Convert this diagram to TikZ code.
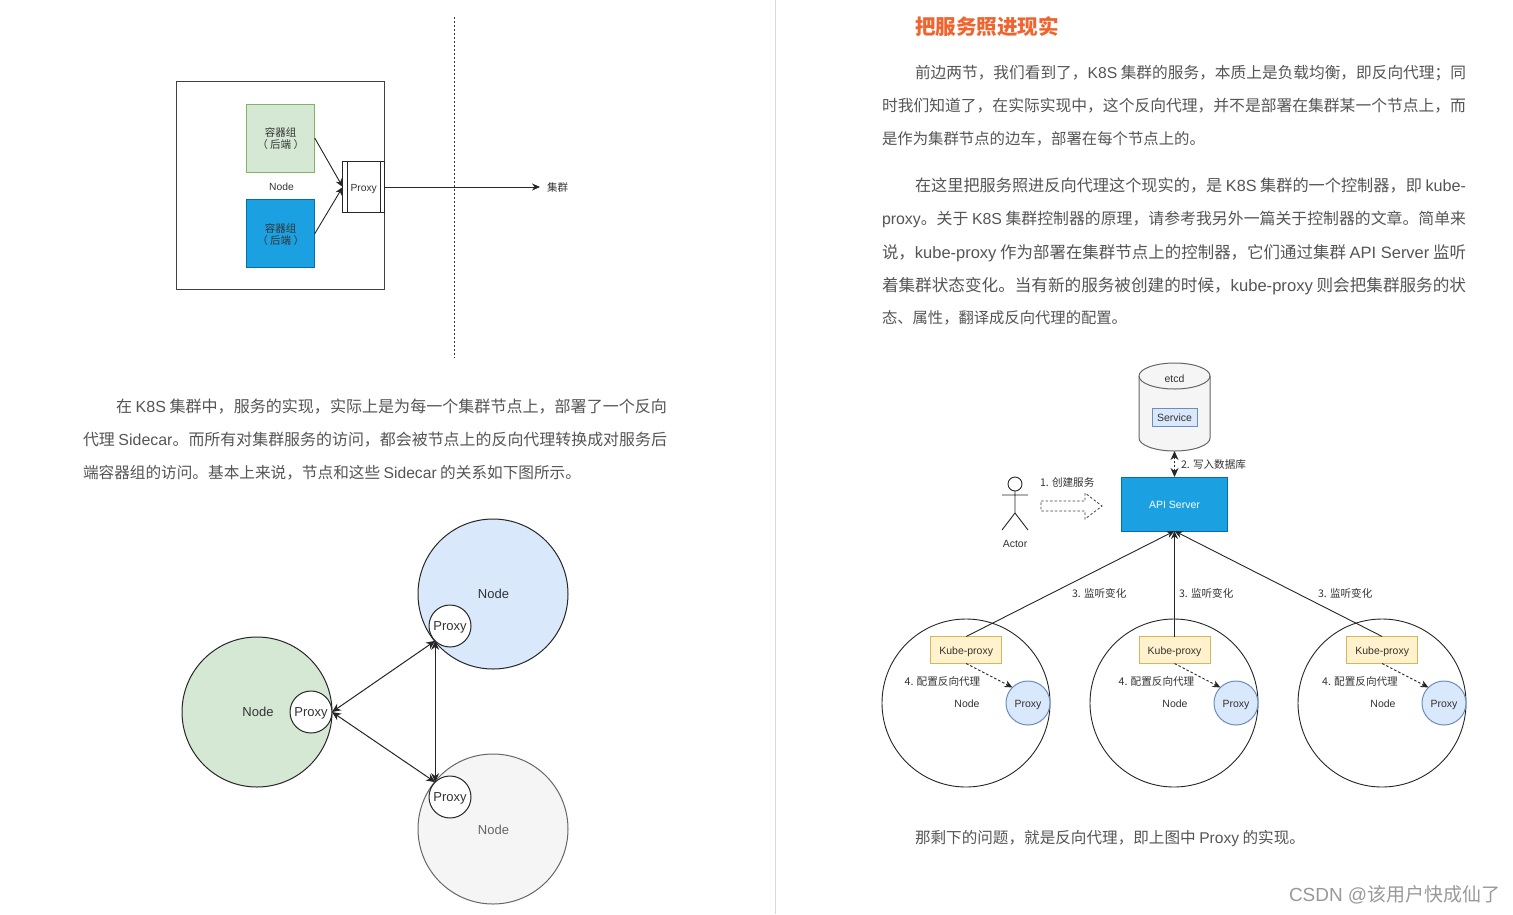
\documentclass[tikz,border=0pt]{standalone}
\usepackage{fontspec}
\usepackage{graphicx}
\setmainfont{Liberation Sans}
\newfontfamily\cjk{Noto Sans CJK SC}
\usetikzlibrary{arrows.meta}
\newcommand{\fsz}[1]{\fontsize{#1}{#1}\selectfont}
\newcommand{\lt}[1]{{\rmfamily\fontspec{Liberation Sans}#1}}
\definecolor{bodytext}{HTML}{555555}
\definecolor{ink}{HTML}{333333}
\definecolor{gfill}{HTML}{D5E8D4}
\definecolor{gline}{HTML}{82B366}
\definecolor{bfill}{HTML}{1BA1E2}
\definecolor{bline}{HTML}{006EAF}
\definecolor{lbfill}{HTML}{DAE8FC}
\definecolor{lbline}{HTML}{6C8EBF}
\definecolor{yfill}{HTML}{FFF2CC}
\definecolor{yline}{HTML}{D6B656}
\definecolor{grayfill}{HTML}{F5F5F5}
\definecolor{grayline}{HTML}{666666}
\tikzset{
  para/.style={anchor=west,inner sep=0pt,outer sep=0pt,text=bodytext,yshift=-2.5pt},
  lab/.style={inner sep=0pt,outer sep=0pt,text=ink},
  evenh/.style={text height=0.9em,text depth=0pt},
  conn/.style={draw=black!85,line width=0.9pt,-{Stealth[length=8pt,width=7pt]}},
  both/.style={draw=black!85,line width=1pt,{Stealth[length=9pt,width=8pt]}-{Stealth[length=9pt,width=8pt]}},
  sq/.style={draw,line width=1pt,minimum width=68pt,minimum height=68pt,inner sep=0pt,outer sep=0pt,align=center,text=ink,font=\cjk\fsz{10.5},text depth=0pt},
  bigc/.style={circle,draw=black!85,line width=1pt,minimum size=150pt,inner sep=0pt,outer sep=0pt},
  proxc/.style={circle,draw=black!85,fill=white,line width=1pt,minimum size=42pt,inner sep=0pt,outer sep=0pt,font=\fsz{13},text=ink,evenh},
  nodec/.style={circle,draw=black!85,fill=white,line width=0.9pt,minimum size=168pt,inner sep=0pt,outer sep=0pt},
  kube/.style={draw=yline,fill=yfill,line width=1pt,minimum width=71pt,minimum height=27pt,inner sep=0pt,outer sep=0pt,font=\fsz{10.5},text=ink,evenh},
  pxb/.style={circle,draw=lbline,fill=lbfill,line width=1pt,minimum size=44pt,inner sep=0pt,outer sep=0pt,font=\fsz{10.5},text=ink,evenh},
  small/.style={lab,font=\cjk\fsz{10.6}},
  nlab/.style={lab,font=\fsz{10.5}},
}
\newcommand{\pline}[5]{\node[para] (#1) at (#2,#3) {\resizebox{#4pt}{!}{\cjk\fsz{16}\strut #5}};}
\begin{document}
\begin{tikzpicture}[x=1pt,y=-1pt]
\useasboundingbox (0,0) rectangle (1513,914);
\fill[white] (0,0) rectangle (1513,914);
\draw[black!15,line width=1pt] (775,0) -- (775,914);

% ---------- diagram 1
\node[draw=black!75,line width=1pt,minimum size=208pt,inner sep=0pt,outer sep=0pt] (outer) at (280.6,185.8) {};
\node[sq,draw=gline,fill=gfill] (green) at (280.7,138) {容器组\\[1.5pt]（ 后端 ）};
\node[sq,draw=bline,fill=bfill] (blue) at (280.7,233.8) {容器组\\[1.5pt]（ 后端 ）};
\node[nlab,font=\fsz{10.3}] (n1) at (281.5,187) {Node};
\node[draw=black!85,fill=white,line width=0.9pt,minimum width=42pt,minimum height=51pt,inner sep=0pt,outer sep=0pt,font=\fsz{10.3},text=ink,evenh] (px) at (363.7,187) {Proxy};
\draw[black!85,line width=0.8pt] (347.2,161.5) -- (347.2,212.5) (380.2,161.5) -- (380.2,212.5);
\coordinate (dtop) at (454,17);
\coordinate (dbot) at (454,358);
\draw[black!80,line width=0.8pt,dash pattern=on 2pt off 2pt] (dtop) -- (dbot);
\node[lab,font=\cjk\fsz{10.5},anchor=west,inner xsep=7pt] (jq) at (540,187) {集群};
\draw[conn] (green.east) -- (px.west);
\draw[conn] (blue.east) -- (px.west);
\draw[conn] (px.east) -- (jq.west);

% ---------- left text
\pline{a1}{116}{406}{551}{在 \lt{K8S} 集群中，服务的实现，实际上是为每一个集群节点上，部署了一个反向}
\pline{a2}{83}{439}{584}{代理 \lt{Sidecar}。而所有对集群服务的访问，都会被节点上的反向代理转换成对服务后}
\pline{a3}{83}{472}{498}{端容器组的访问。基本上来说，节点和这些 \lt{Sidecar} 的关系如下图所示。}

% ---------- diagram 2
\node[bigc,fill=lbfill] (nb) at (493,594) {};
\node[bigc,fill=gfill] (ng) at (257,712) {};
\node[bigc,draw=grayline,fill=grayfill] (nw) at (493,829) {};
\node[lab,font=\fsz{13}] (tb) at (493.5,594) {Node};
\node[lab,font=\fsz{13}] (tg) at (258,712) {Node};
\node[lab,font=\fsz{13},text=grayline] (tw) at (493.5,829.5) {Node};
\node[proxc] (pb) at (450,626) {Proxy};
\node[proxc] (pg) at (311,712) {Proxy};
\node[proxc] (pw) at (450,797) {Proxy};
\draw[both] (pg.east) -- (pb.south west);
\draw[both] (pg.east) -- (pw.north west);
\draw[both] (pb.south west) -- (pw.north west);

% ---------- right text
\node[para] (h) at (915,24.5) {\resizebox{144pt}{!}{\cjk\bfseries\fsz{20}\textcolor[HTML]{F0652F}{把服务照进现实}}};
\pline{b1}{915}{72}{551}{前边两节，我们看到了，\lt{K8S} 集群的服务，本质上是负载均衡，即反向代理；同}
\pline{b2}{882}{105}{584}{时我们知道了，在实际实现中，这个反向代理，并不是部署在集群某一个节点上，而}
\pline{b3}{882}{138}{323}{是作为集群节点的边车，部署在每个节点上的。}
\pline{b4}{915}{185}{551}{在这里把服务照进反向代理这个现实的，是 \lt{K8S} 集群的一个控制器，即 \lt{kube-}}
\pline{b5}{882}{218}{584}{\lt{proxy}。关于 \lt{K8S} 集群控制器的原理，请参考我另外一篇关于控制器的文章。简单来}
\pline{b6}{882}{251}{584}{说，\lt{kube-proxy} 作为部署在集群节点上的控制器，它们通过集群 \lt{API Server} 监听}
\pline{b7}{882}{284}{584}{着集群状态变化。当有新的服务被创建的时候，\lt{kube-proxy} 则会把集群服务的状}
\pline{b8}{882}{317}{245}{态、属性，翻译成反向代理的配置。}
\pline{b9}{915}{837}{390}{那剩下的问题，就是反向代理，即上图中 \lt{Proxy} 的实现。}

% ---------- diagram 3: etcd
\draw[grayline,fill=grayfill,line width=1pt] (1139,376) arc[start angle=180,end angle=0,x radius=35.5pt,y radius=13pt] -- (1210,438) arc[start angle=0,end angle=-180,x radius=35.5pt,y radius=13pt] -- cycle;
\draw[grayline,line width=1pt] (1139,376) arc[start angle=180,end angle=360,x radius=35.5pt,y radius=13pt];
\coordinate (etcdb) at (1174.5,451);
\node[nlab] (etcdt) at (1174.5,379) {etcd};
\node[draw=lbline,fill=lbfill,line width=1pt,minimum width=45pt,minimum height=18pt,inner sep=0pt,outer sep=0pt,font=\fsz{10.5},text=ink] (svc) at (1174.5,417.5) {Service};
\node[draw=bline,fill=bfill,line width=1pt,minimum width=106.5pt,minimum height=54pt,inner sep=0pt,outer sep=0pt,font=\fsz{10.5},text=white,text height=0.9em,text depth=0pt] (api) at (1174.5,504) {API Server};
\draw[both,line width=0.9pt,dash pattern=on 2pt off 2pt] (etcdb) -- (api.north);
\node[small,anchor=west] (l2) at (1181,464.5) {2. 写入数据库};

% actor
\node[circle,draw=black!85,line width=0.9pt,minimum size=14pt,inner sep=0pt,outer sep=0pt] (head) at (1015,484) {};
\coordinate (hip) at (1015,513);
\coordinate (arml) at (1002,495);
\coordinate (armr) at (1028,495);
\coordinate (legl) at (1002,530);
\coordinate (legr) at (1028,530);
\draw[black!85,line width=0.9pt] (head.south) -- (hip) (arml) -- (armr) (legl) -- (hip) -- (legr);
\node[nlab] (actor) at (1015,543.5) {Actor};
\node[small,anchor=west] (l1) at (1040,482.5) {1. 创建服务};
\draw[black!75,line width=0.8pt,dash pattern=on 2.5pt off 2pt] (1041,501) -- (1085,501) -- (1085,493) -- (1102,506) -- (1085,519) -- (1085,511) -- (1041,511) -- cycle;

% nodes
\foreach \nm/\cx/\kx/\lx in {A/966/966.2/942.5,B/1174/1174.5/1156.5,C/1382/1382.2/1360}{
  \node[nodec] (circ\nm) at (\cx,703) {};
  \node[kube] (kp\nm) at (\kx,650) {Kube-proxy};
  \node[pxb] (pr\nm) at (\cx+62,703) {Proxy};
  \node[nlab] (nd\nm) at (\cx+1,703.5) {Node};
  \node[small] (cfg\nm) at (\lx,681.5) {4. 配置反向代理};
  \draw[conn] (kp\nm.north) -- (api.south);
  \draw[conn,dash pattern=on 2.5pt off 2pt] (kp\nm.south) -- (pr\nm.north west);
}
\node[small,anchor=west] (w1) at (1072,593.5) {3. 监听变化};
\node[small,anchor=west] (w2) at (1179,593.5) {3. 监听变化};
\node[small,anchor=west] (w3) at (1318,593.5) {3. 监听变化};

% watermark
\node[para] (wm) at (1289,892) {\resizebox{211pt}{!}{\cjk\fsz{20}\textcolor{black!40}{\lt{CSDN @}该用户快成仙了}}};
\end{tikzpicture}
\end{document}
